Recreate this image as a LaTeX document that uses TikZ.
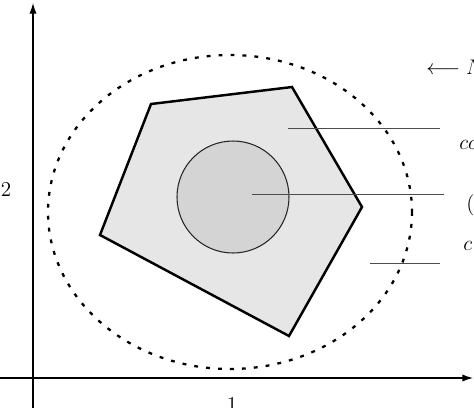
\documentclass[tikz,border=0pt]{standalone}
\usetikzlibrary{arrows.meta}
\definecolor{pentfill}{HTML}{E6E6E6}
\definecolor{circfill}{HTML}{D4D4D4}
\begin{document}
\begin{tikzpicture}[x=0.02cm,y=-0.02cm,
  axis/.style={line width=0.6pt,-{Latex[length=6pt,width=4pt]}},
  pent/.style={line width=1.4pt,fill=pentfill,line join=miter},
  innercirc/.style={draw=black!85,line width=0.6pt,fill=circfill},
  dotted ell/.style={line width=1.3pt,dash pattern=on 2.2pt off 4.6pt},
  leader/.style={line width=0.5pt,draw=black!70},
  lbl/.style={inner sep=0pt,anchor=west,font=\large}]
\useasboundingbox (0,0) rectangle (474,407);
% axes
\coordinate (yb) at (33,412);
\coordinate (yt) at (33,3);
\coordinate (xl) at (-5,378);
\coordinate (xr) at (473,378);
\draw[axis] (yb) -- (yt);
\draw[axis] (xl) -- (xr);
% dashed ellipse
\draw[dotted ell] (230,212) ellipse [x radius=182, y radius=157];
% pentagon
\coordinate (p1) at (151,104);
\coordinate (p2) at (292,87);
\coordinate (p3) at (362,207);
\coordinate (p4) at (289,336);
\coordinate (p5) at (100,235);
\draw[pent] (p1) -- (p2) -- (p3) -- (p4) -- (p5) -- cycle;
% inner circle
\node[circle,innercirc,minimum size=112*0.02cm,inner sep=0pt] (c) at (233,197) {};
% leader lines
\coordinate (a1) at (288,128); \coordinate (b1) at (440,128);
\coordinate (a2) at (252,194); \coordinate (b2) at (444,194);
\coordinate (a3) at (370,263); \coordinate (b3) at (440,263);
\draw[leader] (a1) -- (b1);
\draw[leader] (a2) -- (b2);
\draw[leader] (a3) -- (b3);
% labels (cut off at the right edge, as in the reference)
\node[lbl] (lN) at (426,67) {$\longleftarrow N$};
\node[lbl] (lco) at (459,145) {$co$};
\node[lbl] (lpar) at (466,205) {$($};
\node[lbl] (lc) at (463,246) {$c$};
\node[inner sep=0pt,font=\large] (l2) at (6,190) {$2$};
\node[inner sep=0pt,font=\large,anchor=north] (l1) at (232,398) {$1$};
\end{tikzpicture}
\end{document}
